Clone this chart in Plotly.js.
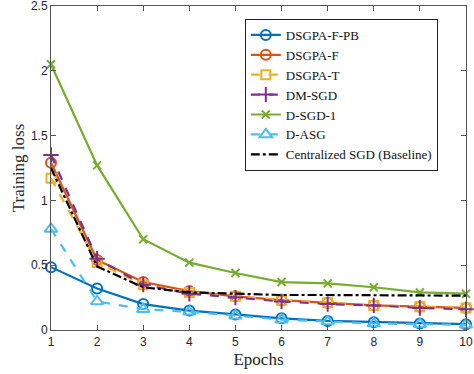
<!DOCTYPE html>
<html>
<head>
<meta charset="utf-8">
<script src="https://cdn.plot.ly/plotly-3.0.1.min.js"></script>
<style>html,body{margin:0;padding:0;background:#fff;}#chart{width:474px;height:374px;}</style>
</head>
<body>
<div id="chart"></div>
<script>
const epochs = [1, 2, 3, 4, 5, 6, 7, 8, 9, 10];
const dsgpaFPB = [0.485, 0.32, 0.20, 0.15, 0.12, 0.09, 0.07, 0.06, 0.05, 0.045];
const dsgpaF   = [1.29, 0.54, 0.37, 0.30, 0.26, 0.23, 0.21, 0.19, 0.18, 0.17];
const dsgpaT   = [1.17, 0.52, 0.35, 0.29, 0.26, 0.23, 0.21, 0.19, 0.18, 0.17];
const dmSGD    = [1.35, 0.55, 0.35, 0.28, 0.25, 0.22, 0.20, 0.19, 0.17, 0.16];
const dSGD1    = [2.05, 1.27, 0.70, 0.52, 0.44, 0.37, 0.36, 0.33, 0.29, 0.28];
const dASG     = [0.78, 0.22, 0.16, 0.14, 0.11, 0.08, 0.065, 0.05, 0.045, 0.04];
const central  = [1.25, 0.49, 0.33, 0.29, 0.28, 0.27, 0.27, 0.27, 0.265, 0.265];

const names = ['DSGPA-F-PB', 'DSGPA-F', 'DSGPA-T', 'DM-SGD', 'D-SGD-1', 'D-ASG', 'Centralized SGD (Baseline)'];
const yTicks = [0, 0.5, 1, 1.5, 2, 2.5];
const yTickText = ['0', '0.5', '1', '1.5', '2', '2.5'];

function tr(y, name, color, dash, symbol, size) {
  const t = {
    x: epochs, y: y, name: name, type: 'scatter',
    mode: symbol ? 'lines+markers' : 'lines',
    line: {color: color, width: 2.2, dash: dash},
    cliponaxis: false
  };
  if (symbol) t.marker = {symbol: symbol, size: size, color: color, line: {width: 2, color: color}};
  return t;
}

const data = [
  tr(dsgpaFPB, names[0], '#0072BD', 'solid', 'circle-open', 10),
  tr(dsgpaF, names[1], '#D95319', 'solid', 'circle-open', 10),
  tr(dsgpaT, names[2], '#EDB120', 'dash', 'square-open', 9),
  tr(dmSGD, names[3], '#7E2F8E', 'dash', 'cross-thin-open', 11),
  tr(dSGD1, names[4], '#77AC30', 'solid', 'x-thin-open', 8),
  tr(dASG, names[5], '#4DBEEE', 'dash', 'triangle-up-open', 11),
  tr(central, names[6], '#000000', 'dashdot', null, 0)
];

const axisCommon = {
  showgrid: false, zeroline: false,
  showline: true, linecolor: '#555', linewidth: 1,
  mirror: 'ticks', ticks: 'inside', ticklen: 5, tickcolor: '#555', tickwidth: 1,
  tickfont: {family: 'Liberation Sans, Arial, sans-serif', size: 12, color: '#262626'}
};

const layout = {
  width: 474, height: 374,
  margin: {l: 51, r: 8, t: 6, b: 44},
  paper_bgcolor: '#fff', plot_bgcolor: '#fff',
  showlegend: true,
  xaxis: Object.assign({}, axisCommon, {
    range: [1, 10], tickvals: epochs,
    ticklabelstandoff: 1,
    title: {text: 'Epochs', font: {family: 'Liberation Serif, DejaVu Serif, serif', size: 17, color: '#262626'}, standoff: 4}
  }),
  yaxis: Object.assign({}, axisCommon, {
    range: [0, 2.5], tickvals: yTicks, ticktext: yTickText,
    ticklabeloverflow: 'allow',
    title: {text: 'Training loss', font: {family: 'Liberation Serif, DejaVu Serif, serif', size: 17, color: '#262626'}, standoff: 1}
  }),
  legend: {
    x: 0.467, y: 0.96, xanchor: 'left', yanchor: 'top',
    bgcolor: '#fff', bordercolor: '#222', borderwidth: 1,
    font: {family: 'Liberation Serif, DejaVu Serif, serif', size: 13, color: '#111'},
    tracegroupgap: 0, itemwidth: 30
  }
};

Plotly.newPlot('chart', data, layout, {displayModeBar: false, staticPlot: true});
</script>
</body>
</html>
